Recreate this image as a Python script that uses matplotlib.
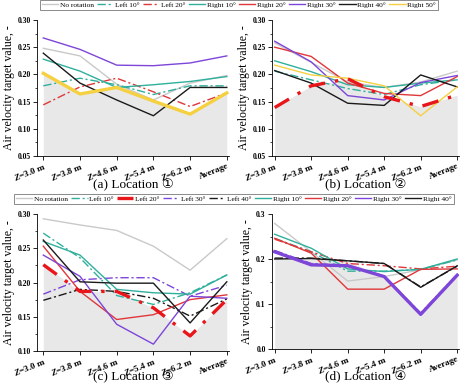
import numpy as np
import matplotlib
matplotlib.use("Agg")
import matplotlib.pyplot as plt
from matplotlib.lines import Line2D
from matplotlib.transforms import ScaledTranslation

plt.rcParams['font.family'] = ['Liberation Serif', 'DejaVu Sans']
plt.rcParams['mathtext.fontset'] = 'custom'
plt.rcParams['mathtext.it'] = 'Liberation Serif:italic:bold'
plt.rcParams['mathtext.rm'] = 'Liberation Serif:bold'

positions = ["$Z$=3.0 m", "$Z$=3.8 m", "$Z$=4.6 m", "$Z$=5.4 m", "$Z$=6.2 m", "Average"]

# location 1
a_no_rot = [0.248, 0.234, 0.182, 0.153, 0.184, 0.198]
a_left10 = [0.179, 0.193, 0.181, 0.163, 0.179, 0.179]
a_left20 = [0.144, 0.177, 0.193, 0.168, 0.141, 0.166]
a_right10 = [0.228, 0.206, 0.176, 0.181, 0.187, 0.196]
a_right30 = [0.267, 0.246, 0.217, 0.216, 0.221, 0.234]
a_right40 = [0.239, 0.184, 0.153, 0.124, 0.176, 0.176]
a_right50 = [0.202, 0.164, 0.176, 0.151, 0.127, 0.166]
a_fill = a_right50

# location 2
b_no_rot = [0.258, 0.222, 0.186, 0.176, 0.186, 0.206]
b_left10 = [0.206, 0.190, 0.174, 0.163, 0.181, 0.190]
b_left20 = [0.139, 0.179, 0.192, 0.159, 0.141, 0.162]
b_right10 = [0.225, 0.205, 0.181, 0.176, 0.184, 0.190]
b_right20 = [0.250, 0.233, 0.184, 0.165, 0.161, 0.196]
b_right30 = [0.261, 0.223, 0.161, 0.153, 0.185, 0.198]
b_right40 = [0.207, 0.184, 0.147, 0.143, 0.199, 0.177]
b_right50 = [0.217, 0.199, 0.193, 0.179, 0.124, 0.177]
b_fill = b_left20

# location 3
c_no_rot = [0.293, 0.284, 0.276, 0.253, 0.218, 0.264]
c_left10 = [0.272, 0.236, 0.181, 0.168, 0.185, 0.211]
c_left20 = [0.226, 0.187, 0.187, 0.163, 0.122, 0.175]
c_left30 = [0.183, 0.204, 0.207, 0.207, 0.180, 0.196]
c_left40 = [0.174, 0.190, 0.187, 0.177, 0.151, 0.176]
c_right10 = [0.260, 0.240, 0.190, 0.185, 0.183, 0.211]
c_right20 = [0.253, 0.187, 0.146, 0.153, 0.175, 0.182]
c_right30 = [0.240, 0.209, 0.139, 0.110, 0.180, 0.177]
c_right40 = [0.262, 0.201, 0.199, 0.199, 0.141, 0.201]
c_fill = c_left20

# location 4
d_no_rot = [0.279, 0.216, 0.151, 0.161, 0.176, 0.198]
d_left10 = [0.246, 0.216, 0.173, 0.173, 0.177, 0.198]
d_left20 = [0.244, 0.216, 0.190, 0.185, 0.178, 0.184]
d_left30 = [0.219, 0.190, 0.186, 0.162, 0.080, 0.166]
d_left40 = [0.202, 0.202, 0.196, 0.190, 0.138, 0.184]
d_right10 = [0.255, 0.224, 0.178, 0.172, 0.177, 0.200]
d_right20 = [0.246, 0.213, 0.133, 0.133, 0.177, 0.178]
d_right30 = [0.216, 0.187, 0.185, 0.161, 0.077, 0.164]
d_right40 = [0.200, 0.201, 0.196, 0.190, 0.137, 0.185]
d_fill = [0.200, 0.200, 0.195, 0.160, 0.078, 0.165]

gray = "#c9c9c9"
teal = "#2fb09c"
red = "#e0373a"
purple = "#7d45d8"
black = "#1a1a1a"
yellow = "#f5d040"
dashdot = (0, (6, 2, 1.5, 2))
thick_dd = (0, (5, 3, 1, 3))

styles = {
    "No rotation": dict(color=gray, ls="-"),
    "Left 10°": dict(color=teal, ls=dashdot),
    "Left 20°": dict(color=red, ls=dashdot),
    "Left 30°": dict(color=purple, ls=dashdot),
    "Left 40°": dict(color=black, ls=dashdot),
    "Right 10°": dict(color=teal, ls="-"),
    "Right 20°": dict(color=red, ls="-"),
    "Right 30°": dict(color=purple, ls="-"),
    "Right 40°": dict(color=black, ls="-"),
    "Right 50°": dict(color=yellow, ls="-"),
}

fig = plt.figure(figsize=(4.74, 3.87), dpi=100)


def px_axes(l, r, t, b):
    return fig.add_axes([l / 474, 1 - b / 387, (r - l) / 474, (b - t) / 387])


def panel(ax, series, fill, thick, ylim, yticks, fmt, xlim, title, title_off):
    x = np.arange(len(positions))
    ax.fill_between(x, ylim[0], fill, color="#e8e8e8", lw=0, zorder=0)
    for name, vals in series:
        st = styles[name]
        color, ls, lw = st["color"], st["ls"], 1.0
        if name == thick:
            lw = 2.4
            if name == "Left 20°":
                color, ls = "#e8161a", thick_dd
        ax.plot(x, vals, color=color, linestyle=ls, lw=lw, zorder=3 if name == thick else 2)
    ax.set_xlim(*xlim)
    ax.set_ylim(*ylim)
    ax.set_yticks(yticks)
    ax.set_yticklabels([fmt % v for v in yticks], fontsize=5.5, fontweight="bold")
    ax.set_yticks([(yticks[i] + yticks[i + 1]) / 2 for i in range(len(yticks) - 1)], minor=True)
    ax.set_xticks(x)
    ax.set_xticklabels(positions, fontsize=6.5, fontweight="bold", rotation=22, ha="right",
                       va="top", rotation_mode="anchor")
    # push the rotated labels a bit to the right, like the original
    shift = ScaledTranslation(9 / 100, 0, fig.dpi_scale_trans)
    for lab in ax.get_xticklabels():
        lab.set_transform(lab.get_transform() + shift)
    ax.tick_params(direction="out", length=3, width=0.6, pad=1.5)
    ax.tick_params(axis="x", pad=1.0)
    ax.tick_params(which="minor", direction="out", length=1.8, width=0.5)
    ax.spines["top"].set_visible(False)
    ax.spines["right"].set_visible(False)
    for s in ["left", "bottom"]:
        ax.spines[s].set_linewidth(0.6)
    ax.set_ylabel("Air velocity target value, -", fontsize=8.5, labelpad=2)
    # title sits under the tick labels, title_off in pixels below the axes bottom
    h = ax.get_position().height * 387
    ax.text(0.5, -title_off / h, title, transform=ax.transAxes, ha="center", va="center",
            fontsize=9.5, family=['Liberation Serif', 'DejaVu Sans'])


ax_a = px_axes(37, 229, 20, 156)
ax_b = px_axes(272, 459, 20, 156)
ax_c = px_axes(37, 229, 214, 351)
ax_d = px_axes(272, 459, 214, 349)

xl_left = (-0.172, 5.06)
xl_right = (-0.074, 5.05)

panel(ax_a, [("No rotation", a_no_rot), ("Left 10°", a_left10), ("Left 20°", a_left20),
             ("Right 10°", a_right10), ("Right 30°", a_right30), ("Right 40°", a_right40),
             ("Right 50°", a_right50)],
      a_fill, "Right 50°", (0.05, 0.30), [0.05, 0.10, 0.15, 0.20, 0.25, 0.30], "%.2f", xl_left,
      "(a) Location ①", 29)
panel(ax_b, [("No rotation", b_no_rot), ("Left 10°", b_left10), ("Right 10°", b_right10),
             ("Right 20°", b_right20), ("Right 30°", b_right30), ("Right 40°", b_right40),
             ("Right 50°", b_right50), ("Left 20°", b_left20)],
      b_fill, "Left 20°", (0.05, 0.30), [0.05, 0.10, 0.15, 0.20, 0.25, 0.30], "%.2f", xl_right,
      "(b) Location ②", 29)
panel(ax_c, [("No rotation", c_no_rot), ("Left 10°", c_left10), ("Left 30°", c_left30),
             ("Left 40°", c_left40), ("Right 10°", c_right10), ("Right 20°", c_right20),
             ("Right 30°", c_right30), ("Right 40°", c_right40), ("Left 20°", c_left20)],
      c_fill, "Left 20°", (0.10, 0.30), [0.10, 0.15, 0.20, 0.25, 0.30], "%.2f", xl_left,
      "(c) Location ③", 26)
panel(ax_d, [("No rotation", d_no_rot), ("Left 10°", d_left10), ("Left 20°", d_left20),
             ("Left 30°", d_left30), ("Left 40°", d_left40), ("Right 10°", d_right10),
             ("Right 20°", d_right20), ("Right 40°", d_right40), ("Right 30°", d_right30)],
      d_fill, "Right 30°", (0.0, 0.30), [0.0, 0.1, 0.2, 0.3], "%.1f", xl_right,
      "(d) Location ④", 28)


def legend_handles(names, thick=None):
    hs = []
    for n in names:
        st = styles[n]
        color, ls, lw = st["color"], st["ls"], 1.0
        if n == thick:
            color, ls, lw = "#e8161a", thick_dd, 2.4
        hs.append(Line2D([], [], color=color, linestyle=ls, lw=lw))
    return hs


top_names = ["No rotation", "Left 10°", "Left 20°", "Right 10°", "Right 20°", "Right 30°",
             "Right 40°", "Right 50°"]
bot_names = ["No rotation", "Left 10°", "Left 20°", "Left 30°", "Left 40°", "Right 10°",
             "Right 20°", "Right 30°", "Right 40°"]

leg_kw = dict(fontsize=5.3, frameon=True, fancybox=False, edgecolor="#555555",
              handlelength=2.2, handletextpad=0.25, columnspacing=0.45, borderpad=0.25,
              borderaxespad=0)
l1 = fig.legend(legend_handles(top_names), top_names, ncol=8, loc="upper center",
                bbox_to_anchor=(239 / 474, 1.0), **leg_kw)
l1.get_frame().set_linewidth(0.6)
l2 = fig.legend(legend_handles(bot_names, "Left 20°"), bot_names, ncol=9, loc="upper center",
                bbox_to_anchor=(234 / 474, 1 - 194 / 387), **leg_kw)
l2.get_frame().set_linewidth(0.6)

plt.savefig("out.png", dpi=100)
